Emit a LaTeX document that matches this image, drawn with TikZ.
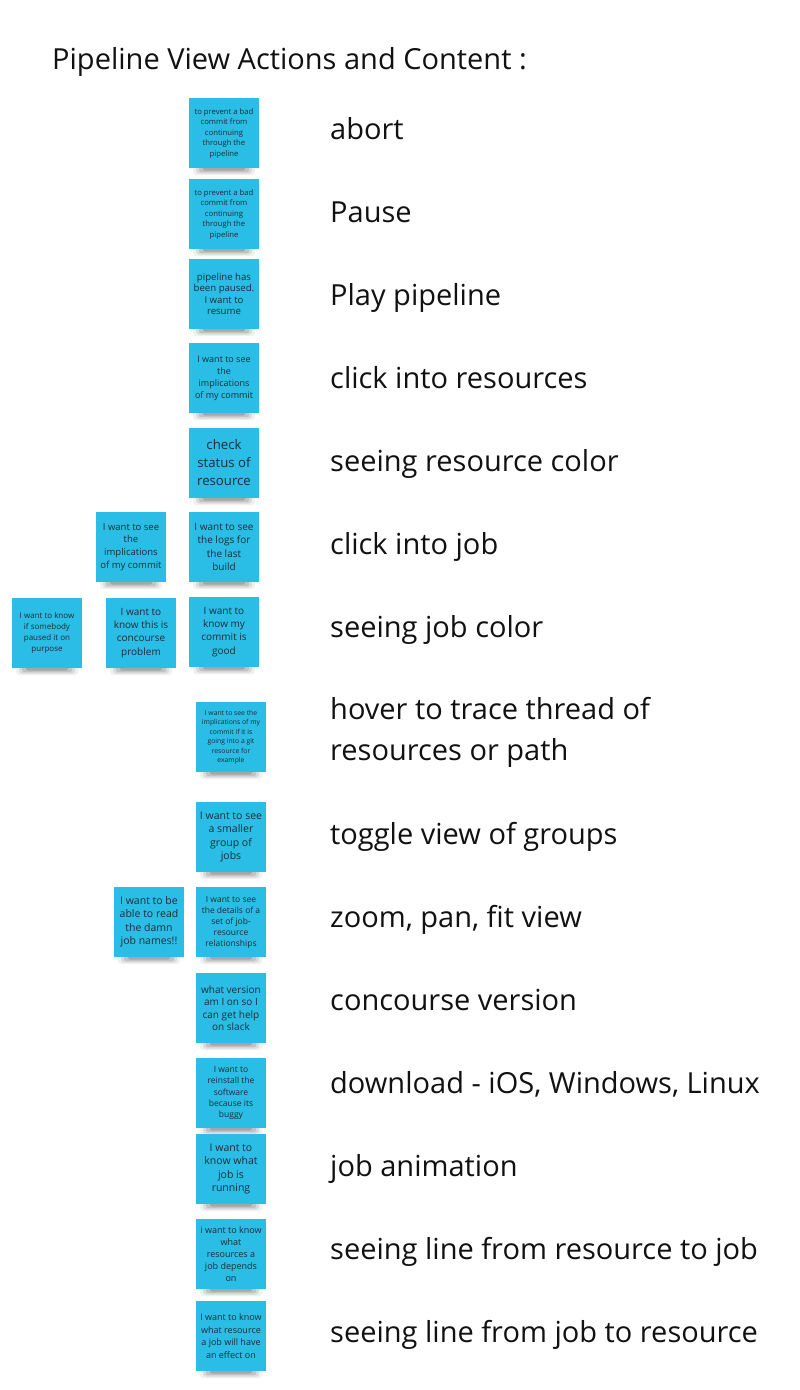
\documentclass[tikz,border=0pt]{standalone}
\usepackage{fontspec}
\setmainfont{Open Sans}
\definecolor{notecol}{RGB}{42,189,229}
\definecolor{notetext}{RGB}{30,45,55}
\definecolor{lbltext}{RGB}{17,17,17}
\tikzset{
  note/.style={fill=notecol, text=notetext, minimum width=70pt, minimum height=70pt, inner sep=0pt, align=center},
  lbl/.style={text=lbltext, anchor=base west, inner sep=0pt, font=\fontsize{29}{41}\selectfont, align=left},
}
\newcommand\stickynote[6]{%
  \fill[black,opacity=.06,rounded corners=3pt] (#2+4,#3+60) rectangle (#2+66,#3+77);
  \fill[black,opacity=.09,rounded corners=3pt] (#2+7,#3+62) rectangle (#2+63,#3+75.5);
  \fill[black,opacity=.11,rounded corners=2pt] (#2+10,#3+64) rectangle (#2+60,#3+74);
  \fill[black,opacity=.14,rounded corners=2pt] (#2+14,#3+66) rectangle (#2+56,#3+72.5);
  \node[note, font=\fontsize{#4}{#5}\selectfont] (#1) at (#2+35,#3+35) {#6};
}
\begin{document}
\begin{tikzpicture}[x=1pt,y=-1pt]
\useasboundingbox[fill=white] (0,0) rectangle (800,1390);
\node[lbl] (title) at (52,69) {Pipeline View Actions and Content :};

% column A
\stickynote{n1}{189}{98}{7.7}{10.5}{to prevent a bad\\commit from\\continuing\\through the\\pipeline}
\stickynote{n2}{189}{179}{7.7}{10.5}{to prevent a bad\\commit from\\continuing\\through the\\pipeline}
\stickynote{n3}{189}{259}{9.6}{11.5}{pipeline has\\been paused.\\I want to\\resume}
\stickynote{n4}{189}{343}{9}{12}{I want to see\\the\\implications\\of my commit}
\stickynote{n5}{189}{428}{13.2}{18}{check\\status of\\resource}
\stickynote{n6}{189}{512}{10}{13.2}{I want to see\\the logs for\\the last\\build}
\stickynote{n7}{96}{512}{9.5}{12.6}{I want to see\\the\\implications\\of my commit}
\stickynote{n8}{12}{598}{8}{11}{I want to know\\if somebody\\paused it on\\purpose}
\stickynote{n9}{106}{598}{10}{13.2}{I want to\\know this is\\concourse\\problem}
\stickynote{n10}{189}{597}{10}{13.2}{I want to\\know my\\commit is\\good}

% column B
\stickynote{n11}{196}{702}{6.8}{9.5}{I want to see the\\implications of my\\commit if it is\\going into a git\\resource for\\example}
\stickynote{n12}{196}{802}{10.5}{13.5}{I want to see\\a smaller\\group of\\jobs}
\stickynote{n13}{196}{887}{8.5}{11}{I want to see\\the details of a\\set of job-\\resource\\relationships}
\stickynote{n14}{114}{887}{10.5}{13.5}{I want to be\\able to read\\the damn\\job names!!}
\stickynote{n15}{196}{973}{10}{12.5}{what version\\am I on so I\\can get help\\on slack}
\stickynote{n16}{196}{1058}{8.5}{11.3}{I want to\\reinstall the\\software\\because its\\buggy}
\stickynote{n17}{196}{1134}{10.5}{13.5}{I want to\\know what\\job is\\running}
\stickynote{n18}{196}{1219}{9}{12}{i want to know\\what\\resources a\\job depends\\on}
\stickynote{n19}{196}{1301}{9}{12.5}{I want to know\\what resource\\a job will have\\an effect on}

% labels
\node[lbl] (l1) at (330,139) {abort};
\node[lbl] (l2) at (330,222) {Pause};
\node[lbl] (l3) at (330,305) {Play pipeline};
\node[lbl] (l4) at (330,388) {click into resources};
\node[lbl] (l5) at (330,471) {seeing resource color};
\node[lbl] (l6) at (330,554) {click into job};
\node[lbl] (l7) at (330,637) {seeing job color};
\node[lbl] (l8) at (330,760) {hover to trace thread of\\resources or path};
\node[lbl] (l9) at (330,844) {toggle view of groups};
\node[lbl] (l10) at (330,927) {zoom, pan, fit view};
\node[lbl] (l11) at (330,1010) {concourse version};
\node[lbl] (l12) at (330,1093) {download - iOS, Windows, Linux};
\node[lbl] (l13) at (330,1176) {job animation};
\node[lbl] (l14) at (330,1259) {seeing line from resource to job};
\node[lbl] (l15) at (330,1342) {seeing line from job to resource};
\end{tikzpicture}
\end{document}
